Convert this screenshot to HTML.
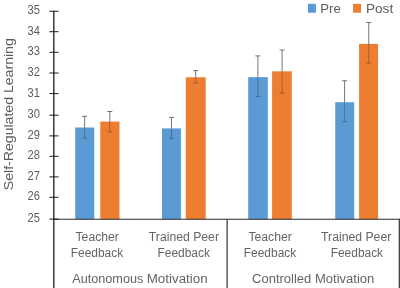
<!DOCTYPE html>
<html><head><meta charset="utf-8"><title>Chart</title>
<style>html,body{margin:0;padding:0;background:#fff;overflow:hidden}
.t{font-family:"Liberation Sans","DejaVu Sans",sans-serif;fill:#5c5c5c}.u{fill:#646464}</style></head>
<body>
<svg width="400" height="288" viewBox="0 0 400 288" style="display:block">
<rect width="400" height="288" fill="#fff"/>
<rect x="75.25" y="127.50" width="19.05" height="91.70" fill="#5b9bd5"/>
<path d="M84.60 116.30V127.50M82.10 116.30h5" stroke="#666" stroke-width="0.9" fill="none"/>
<path d="M84.60 127.50V138.10M82.10 138.10h5" stroke="#222" stroke-opacity="0.38" stroke-width="0.9" fill="none"/>
<rect x="100.30" y="121.60" width="19.20" height="97.60" fill="#ed7d31"/>
<path d="M109.80 111.50V121.60M107.30 111.50h5" stroke="#666" stroke-width="0.9" fill="none"/>
<path d="M109.80 121.60V131.90M107.30 131.90h5" stroke="#222" stroke-opacity="0.38" stroke-width="0.9" fill="none"/>
<rect x="162.00" y="128.40" width="18.90" height="90.80" fill="#5b9bd5"/>
<path d="M171.50 117.40V128.40M169.00 117.40h5" stroke="#666" stroke-width="0.9" fill="none"/>
<path d="M171.50 128.40V138.40M169.00 138.40h5" stroke="#222" stroke-opacity="0.38" stroke-width="0.9" fill="none"/>
<rect x="185.80" y="77.25" width="19.90" height="141.95" fill="#ed7d31"/>
<path d="M195.70 70.60V77.25M193.20 70.60h5" stroke="#666" stroke-width="0.9" fill="none"/>
<path d="M195.70 77.25V82.90M193.20 82.90h5" stroke="#222" stroke-opacity="0.38" stroke-width="0.9" fill="none"/>
<rect x="248.20" y="77.15" width="19.60" height="142.05" fill="#5b9bd5"/>
<path d="M257.90 55.90V77.15M255.40 55.90h5" stroke="#666" stroke-width="0.9" fill="none"/>
<path d="M257.90 77.15V96.60M255.40 96.60h5" stroke="#222" stroke-opacity="0.38" stroke-width="0.9" fill="none"/>
<rect x="272.10" y="71.35" width="19.70" height="147.85" fill="#ed7d31"/>
<path d="M282.10 50.00V71.35M279.60 50.00h5" stroke="#666" stroke-width="0.9" fill="none"/>
<path d="M282.10 71.35V93.10M279.60 93.10h5" stroke="#222" stroke-opacity="0.38" stroke-width="0.9" fill="none"/>
<rect x="335.25" y="102.20" width="18.95" height="117.00" fill="#5b9bd5"/>
<path d="M344.60 80.75V102.20M342.10 80.75h5" stroke="#666" stroke-width="0.9" fill="none"/>
<path d="M344.60 102.20V121.75M342.10 121.75h5" stroke="#222" stroke-opacity="0.38" stroke-width="0.9" fill="none"/>
<rect x="359.10" y="43.85" width="18.95" height="175.35" fill="#ed7d31"/>
<path d="M368.75 22.50V43.85M366.25 22.50h5" stroke="#666" stroke-width="0.9" fill="none"/>
<path d="M368.75 43.85V63.10M366.25 63.10h5" stroke="#222" stroke-opacity="0.38" stroke-width="0.9" fill="none"/>
<path d="M53.8 10.7V288" stroke="#3a3a3a" stroke-width="1.5" fill="none"/>
<path d="M53.199999999999996 219.2H399.9" stroke="#2b2b2b" stroke-width="1.1" fill="none"/>
<path d="M227.1 219.2V288M399.3 218.7V288" stroke="#2b2b2b" stroke-width="1.15" fill="none"/>
<path d="M49.4 219.10H58.5" stroke="#1c1c1c" stroke-width="1" fill="none"/>
<text x="40" y="222.00" text-anchor="end" class="t" font-size="12" textLength="12.4" lengthAdjust="spacingAndGlyphs">25</text>
<path d="M49.4 197.30H58.5" stroke="#1c1c1c" stroke-width="1" fill="none"/>
<text x="40" y="200.20" text-anchor="end" class="t" font-size="12" textLength="12.4" lengthAdjust="spacingAndGlyphs">26</text>
<path d="M49.4 176.90H58.5" stroke="#1c1c1c" stroke-width="1" fill="none"/>
<text x="40" y="179.80" text-anchor="end" class="t" font-size="12" textLength="12.4" lengthAdjust="spacingAndGlyphs">27</text>
<path d="M49.4 156.30H58.5" stroke="#1c1c1c" stroke-width="1" fill="none"/>
<text x="40" y="159.20" text-anchor="end" class="t" font-size="12" textLength="12.4" lengthAdjust="spacingAndGlyphs">28</text>
<path d="M49.4 135.90H58.5" stroke="#1c1c1c" stroke-width="1" fill="none"/>
<text x="40" y="138.80" text-anchor="end" class="t" font-size="12" textLength="12.4" lengthAdjust="spacingAndGlyphs">29</text>
<path d="M49.4 115.20H58.5" stroke="#1c1c1c" stroke-width="1" fill="none"/>
<text x="40" y="118.10" text-anchor="end" class="t" font-size="12" textLength="12.4" lengthAdjust="spacingAndGlyphs">30</text>
<path d="M49.4 93.60H58.5" stroke="#1c1c1c" stroke-width="1" fill="none"/>
<text x="40" y="96.50" text-anchor="end" class="t" font-size="12" textLength="12.4" lengthAdjust="spacingAndGlyphs">31</text>
<path d="M49.4 73.00H58.5" stroke="#1c1c1c" stroke-width="1" fill="none"/>
<text x="40" y="75.90" text-anchor="end" class="t" font-size="12" textLength="12.4" lengthAdjust="spacingAndGlyphs">32</text>
<path d="M49.4 52.30H58.5" stroke="#1c1c1c" stroke-width="1" fill="none"/>
<text x="40" y="55.20" text-anchor="end" class="t" font-size="12" textLength="12.4" lengthAdjust="spacingAndGlyphs">33</text>
<path d="M49.4 31.70H58.5" stroke="#1c1c1c" stroke-width="1" fill="none"/>
<text x="40" y="34.60" text-anchor="end" class="t" font-size="12" textLength="12.4" lengthAdjust="spacingAndGlyphs">34</text>
<path d="M49.4 11.25H58.5" stroke="#1c1c1c" stroke-width="1" fill="none"/>
<text x="40" y="14.15" text-anchor="end" class="t" font-size="12" textLength="12.4" lengthAdjust="spacingAndGlyphs">35</text>
<text transform="translate(13.1,114.2) rotate(-90)" text-anchor="middle" class="t" font-size="13" textLength="152" lengthAdjust="spacingAndGlyphs">Self-Regulated Learning</text>
<text x="75.50" y="240.6" class="t u" font-size="12" textLength="43.4" lengthAdjust="spacingAndGlyphs">Teacher</text>
<text x="70.75" y="256.6" class="t u" font-size="12" textLength="52.4" lengthAdjust="spacingAndGlyphs">Feedback</text>
<text x="148.80" y="240.6" class="t u" font-size="12" textLength="70.2" lengthAdjust="spacingAndGlyphs">Trained Peer</text>
<text x="157.50" y="256.6" class="t u" font-size="12" textLength="52.4" lengthAdjust="spacingAndGlyphs">Feedback</text>
<text x="248.40" y="240.6" class="t u" font-size="12" textLength="43.4" lengthAdjust="spacingAndGlyphs">Teacher</text>
<text x="243.80" y="256.6" class="t u" font-size="12" textLength="52.4" lengthAdjust="spacingAndGlyphs">Feedback</text>
<text x="321.10" y="240.6" class="t u" font-size="12" textLength="70.2" lengthAdjust="spacingAndGlyphs">Trained Peer</text>
<text x="330.70" y="256.6" class="t u" font-size="12" textLength="52.4" lengthAdjust="spacingAndGlyphs">Feedback</text>
<text y="282.7" class="t u" font-size="12"><tspan x="72.2" textLength="71.2" lengthAdjust="spacingAndGlyphs">Autonomous</tspan> <tspan x="146.7" textLength="61.0" lengthAdjust="spacingAndGlyphs">Motivation</tspan></text>
<text x="252" y="282.7" class="t u" font-size="12" textLength="122.3" lengthAdjust="spacingAndGlyphs">Controlled Motivation</text>
<rect x="307.9" y="3.8" width="8.0" height="8.9" fill="#5b9bd5"/>
<rect x="353.1" y="3.8" width="7.9" height="8.9" fill="#ed7d31"/>
<text x="320.3" y="12.7" class="t" font-size="13" textLength="20.4" lengthAdjust="spacingAndGlyphs">Pre</text>
<text x="366" y="12.7" class="t" font-size="13" textLength="27.2" lengthAdjust="spacingAndGlyphs">Post</text>
</svg>
</body></html>
